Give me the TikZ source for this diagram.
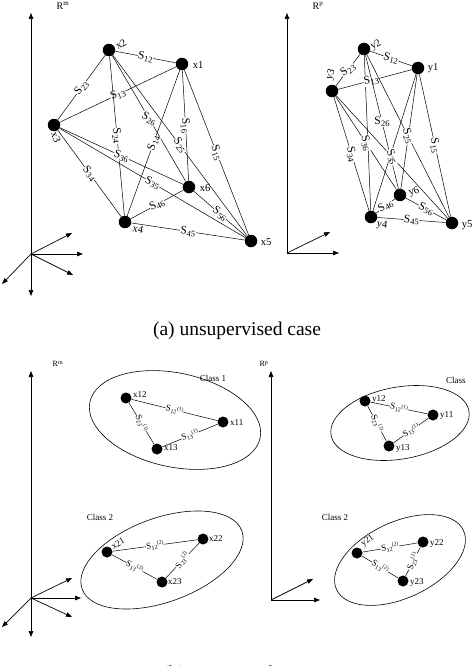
\documentclass[tikz,border=0pt]{standalone}
\usepackage{fontspec}
\setmainfont{Liberation Serif}
\usetikzlibrary{arrows.meta,shapes.geometric}
\newcommand{\slab}[1]{S\kern0.2pt\raisebox{-1.9pt}{\fontsize{8.5}{8.5}\selectfont #1}}
\newcommand{\slabsup}[2]{S\raisebox{-1.5pt}{\fontsize{6}{6}\selectfont #1}\raisebox{3pt}{\fontsize{5.5}{5.5}\selectfont(#2)}}
\begin{document}
\begin{tikzpicture}[x=1pt,y=-1pt,
  dot/.style={circle,fill=black,inner sep=0pt,minimum size=12.5pt},
  sdot/.style={circle,fill=black,inner sep=0pt,minimum size=11pt},
  edge/.style={line width=0.5pt},
  lab/.style={fill=white,inner sep=0.4pt,font=\fontsize{11.5}{11.5}\selectfont},
  slab/.style={fill=white,inner sep=0.4pt,font=\fontsize{9}{9}\selectfont},
  nl/.style={font=\fontsize{10.5}{10.5}\selectfont,inner sep=0pt},
  snl/.style={font=\fontsize{9}{9}\selectfont,inner sep=0pt,anchor=west},
  axis/.style={line width=0.7pt,-{Triangle[length=6pt,width=4.5pt]}},
  axis2/.style={line width=0.7pt,{Triangle[length=6pt,width=4.5pt]}-{Triangle[length=6pt,width=4.5pt]}},
  cls/.style={draw,ellipse,line width=0.6pt,inner sep=0pt},
  ctext/.style={font=\fontsize{9}{9}\selectfont,inner sep=0pt},
  rlab/.style={font=\fontsize{10}{10}\selectfont,inner sep=0pt},
  srlab/.style={font=\fontsize{8}{8}\selectfont,inner sep=0pt}
]
\useasboundingbox[fill=white] (0,0) rectangle (474,666);

% ---------- (a) left: R^m ----------
\coordinate (oA) at (31,254);
\coordinate (tA) at (31,13);
\coordinate (bA) at (31,296);
\coordinate (a1) at (72,233);
\coordinate (a2) at (83,254);
\coordinate (a3) at (73,275);
\coordinate (a4) at (2,284);
\draw[axis2] (bA) -- (tA);
\draw[axis] (oA) -- (a1);
\draw[axis] (oA) -- (a2);
\draw[axis] (oA) -- (a3);
\draw[axis] (oA) -- (a4);
\node[rlab] (rA) at (63,6) {R\textsuperscript{m}};

\node[dot] (x1) at (182,64) {};
\node[dot] (x2) at (109,50) {};
\node[dot] (x3) at (54,125) {};
\node[dot] (x4) at (125,222) {};
\node[dot] (x5) at (251,241) {};
\node[dot] (x6) at (189,187) {};

\draw[edge] (x2) -- node[lab,rotate=-10] {\slab{12}} (x1);
\draw[edge] (x3) -- node[lab,rotate=50] {\slab{23}} (x2);
\draw[edge] (x3) -- node[lab,rotate=20] {\slab{13}} (x1);
\draw[edge] (x2) -- node[lab,rotate=-82] {\slab{24}} (x4);
\draw[edge] (x2) -- node[lab,rotate=-30] {\slab{26}} (x6);
\draw[edge] (x2) -- node[lab,rotate=-55] {\slab{25}} (x5);
\draw[edge] (x1) -- node[lab,rotate=-85] {\slab{16}} (x6);
\draw[edge] (x4) -- node[lab,rotate=70] {\slab{14}} (x1);
\draw[edge] (x1) -- node[lab,rotate=-70] {\slab{15}} (x5);
\draw[edge] (x3) -- node[lab,rotate=-20] {\slab{36}} (x6);
\draw[edge] (x3) -- node[lab,rotate=-25] {\slab{35}} (x5);
\draw[edge] (x3) -- node[lab,rotate=-50] {\slab{34}} (x4);
\draw[edge] (x4) -- node[lab,rotate=25] {\slab{46}} (x6);
\draw[edge] (x4) -- node[lab,rotate=-8] {\slab{45}} (x5);
\draw[edge] (x6) -- node[lab,rotate=-35] {\slab{56}} (x5);

\node[nl] (lx1) at (198,65) {x1};
\node[nl,rotate=30] (lx2) at (121,44) {x2};
\node[nl,rotate=-70] (lx3) at (56,137) {x3};
\node[nl,rotate=-12] (lx4) at (138,229) {x4};
\node[nl] (lx5) at (266,242) {x5};
\node[nl] (lx6) at (205,188) {x6};

% ---------- (a) right: R^p ----------
\coordinate (oB) at (287,253);
\coordinate (tB) at (287,13);
\coordinate (b1) at (339,253);
\coordinate (b2) at (330,232);
\draw[axis] (oB) -- (tB);
\draw[axis] (oB) -- (b1);
\draw[axis] (oB) -- (b2);
\node[rlab] (rB) at (318,6) {R\textsuperscript{p}};

\node[dot] (y1) at (418,68) {};
\node[dot] (y2) at (364,49) {};
\node[dot] (y3) at (332,91) {};
\node[dot] (y4) at (371,217) {};
\node[dot] (y5) at (452,223) {};
\node[dot] (y6) at (400,195) {};

\draw[edge] (y2) -- (y4);
\draw[edge] (y1) -- (y4);
\draw[edge] (y1) -- (y6);
\draw[edge] (y2) -- node[lab,rotate=-15] {\slab{12}} (y1);
\draw[edge] (y3) -- node[lab,rotate=35] {\slab{23}} (y2);
\draw[edge] (y3) -- node[lab,rotate=10,pos=0.45] {\slab{13}} (y1);
\draw[edge] (y2) -- node[lab] {\slab{26}} (y6);
\draw[edge] (y2) -- node[lab,rotate=-72] {\slab{25}} (y5);
\draw[edge] (y1) -- node[lab,rotate=-80] {\slab{15}} (y5);
\draw[edge] (y3) -- node[lab,rotate=-78] {\slab{34}} (y4);
\draw[edge] (y3) -- node[lab,rotate=-75] {\slab{36}} (y6);
\draw[edge] (y3) -- node[lab,rotate=-65] {\slab{35}} (y5);
\draw[edge] (y4) -- node[lab,rotate=30] {\slab{46}} (y6);
\draw[edge] (y6) -- node[lab,rotate=-25] {\slab{56}} (y5);
\draw[edge] (y4) -- node[lab,rotate=-5] {\slab{45}} (y5);

\node[nl] (ly1) at (433,68) {y1};
\node[nl,rotate=30] (ly2) at (376,45) {y2};
\node[nl,rotate=70] (ly3) at (331,75) {y3};
\node[nl,rotate=-10] (ly4) at (382,225) {y4};
\node[nl] (ly5) at (467,225) {y5};
\node[nl,rotate=20] (ly6) at (414,192) {y6};

\node[font=\fontsize{19.5}{19.5}\selectfont,inner sep=0pt] (capA) at (237,331) {(a) unsupervised case};

% ---------- (b) left ----------
\coordinate (oC) at (31,598);
\coordinate (tC) at (31,371);
\coordinate (bC) at (31,637);
\coordinate (c1) at (72,578);
\coordinate (c2) at (81,598);
\coordinate (c3) at (72,617);
\coordinate (c4) at (2,627);
\draw[axis2] (bC) -- (tC);
\draw[axis] (oC) -- (c1);
\draw[axis] (oC) -- (c2);
\draw[axis] (oC) -- (c3);
\draw[axis] (oC) -- (c4);
\node[srlab] (rC) at (58,364) {R\textsuperscript{m}};

\node[cls,minimum width=174pt,minimum height=94pt,rotate=-12] (e1) at (175,420) {};
\node[cls,minimum width=170pt,minimum height=84pt,rotate=20] (e2) at (162,560) {};
\node[ctext] (cl1) at (213,378) {Class 1};
\node[ctext] (cl2) at (100,517) {Class 2};

\node[sdot] (x12) at (126,398) {};
\node[sdot] (x11) at (223,422) {};
\node[sdot] (x13) at (157,449) {};
\node[sdot] (x21) at (107,552) {};
\node[sdot] (x22) at (203,539) {};
\node[sdot] (x23) at (162,582) {};

\draw[edge] (x12) -- node[slab,rotate=-12] {\slabsup{12}{1}} (x11);
\draw[edge] (x12) -- node[slab,rotate=-65] {\slabsup{23}{1}} (x13);
\draw[edge] (x13) -- node[slab,rotate=20] {\slabsup{13}{1}} (x11);
\draw[edge] (x21) -- node[slab,rotate=8] {\slabsup{12}{2}} (x22);
\draw[edge] (x21) -- node[slab,rotate=-25] {\slabsup{13}{2}} (x23);
\draw[edge] (x23) -- node[slab,rotate=55] {\slabsup{23}{2}} (x22);

\node[snl] (lx12) at (133,395) {x12};
\node[snl] (lx11) at (230,423) {x11};
\node[snl] (lx13) at (164,448) {x13};
\node[snl,rotate=30] (lx21) at (112,547) {x21};
\node[snl] (lx22) at (209,539) {x22};
\node[snl] (lx23) at (168,582) {x23};

% ---------- (b) right ----------
\coordinate (oD) at (271,600);
\coordinate (tD) at (271,371);
\coordinate (d1) at (320,600);
\coordinate (d2) at (313,579);
\draw[axis] (oD) -- (tD);
\draw[axis] (oD) -- (d1);
\draw[axis] (oD) -- (d2);
\node[srlab] (rD) at (264,364) {R\textsuperscript{p}};

\node[cls,minimum width=140pt,minimum height=72pt,rotate=10] (e3) at (400,423) {};
\node[cls,minimum width=140pt,minimum height=76pt,rotate=25] (e4) at (400,560) {};
\node[ctext,anchor=west] (cl3) at (446,380) {Class};
\node[ctext] (cl4) at (335,517) {Class 2};

\node[sdot] (y12) at (365,401) {};
\node[sdot] (y11) at (433,415) {};
\node[sdot] (y13) at (389,446) {};
\node[sdot] (y21) at (357,553) {};
\node[sdot] (y22) at (423,542) {};
\node[sdot] (y23) at (403,581) {};

\draw[edge] (y12) -- node[slab,rotate=-12] {\slabsup{12}{1}} (y11);
\draw[edge] (y12) -- node[slab,rotate=-65] {\slabsup{23}{1}} (y13);
\draw[edge] (y13) -- node[slab,rotate=30] {\slabsup{13}{1}} (y11);
\draw[edge] (y21) -- node[slab,rotate=10] {\slabsup{12}{2}} (y22);
\draw[edge] (y21) -- node[slab,rotate=-30] {\slabsup{13}{2}} (y23);
\draw[edge] (y23) -- node[slab,rotate=70] {\slabsup{23}{2}} (y22);

\node[snl] (ly12) at (372,399) {y12};
\node[snl] (ly11) at (440,415) {y11};
\node[snl] (ly13) at (396,448) {y13};
\node[snl,rotate=35] (ly21) at (362,545) {y21};
\node[snl] (ly22) at (430,543) {y22};
\node[snl] (ly23) at (410,582) {y23};

\node[font=\fontsize{19.5}{19.5}\selectfont,inner sep=0pt,anchor=base] (capB) at (237,679) {(b) supervised case};
\end{tikzpicture}
\end{document}
